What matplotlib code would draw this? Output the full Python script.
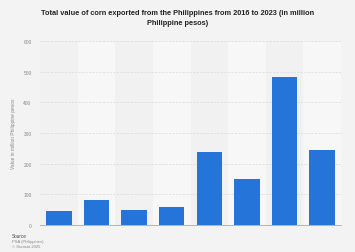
import matplotlib
matplotlib.use("Agg")
from matplotlib import pyplot as plt
import numpy as np

plt.rcParams['font.family'] = ['Liberation Sans', 'DejaVu Sans']

years = ['2016', '2017', '2018', '2019', '2020', '2021', '2022', '2023']
values = [47, 83, 50, 60, 237, 149, 484, 243]
yticks = [0, 100, 200, 300, 400, 500, 600]
ytick_labels = ['0', '100', '200', '300', '400', '500', '600']

bg = '#f3f3f3'
fig = plt.figure(figsize=(3.55, 2.53), dpi=100, facecolor=bg)
ax = fig.add_axes([40/355, 1-226/253, 301/355, 184/253])
ax.set_facecolor(bg)

x = np.arange(len(years))
# alternating column bands
for i in x:
	ax.axvspan(i-0.5, i+0.5, color='#f1f1f1' if i % 2 == 0 else '#f7f7f7', lw=0, zorder=0)

ax.bar(x, values, width=0.68, color='#2574d9', zorder=3)

ax.set_xlim(-0.5, len(years)-0.5)
ax.set_ylim(0, 600)
ax.set_yticks(yticks)
ax.set_yticklabels(ytick_labels, fontsize=3.5, color='#888888')
ax.set_xticks([])
ax.yaxis.grid(True, color='#d8d8d8', linestyle=(0, (3, 2)), linewidth=0.5, zorder=1)
ax.tick_params(axis='y', length=0, pad=6)
for s in ['top', 'right', 'left']:
	ax.spines[s].set_visible(False)
ax.spines['bottom'].set_color('#aaaaaa')
ax.spines['bottom'].set_linewidth(0.6)
ax.spines['bottom'].set_zorder(4)

ax.set_ylabel('Value in million Philippine pesos', fontsize=3.5, color='#888888', labelpad=5)

fig.text(0.5, 1-18.5/253, 'Total value of corn exported from the Philippines from 2016 to 2023 (in million\nPhilippine pesos)',
	ha='center', va='center', fontsize=5.3, fontweight='bold', color='#222222', linespacing=1.5)

fig.text(12/355, 1-236/253, 'Source', fontsize=3.3, color='#444444', va='center')
fig.text(12/355, 1-240/253, 'PSA (Philippines)\n© Statista 2025', fontsize=3.0, color='#888888', va='top', linespacing=1.4)

fig.savefig('out.png', dpi=100, facecolor=bg)
